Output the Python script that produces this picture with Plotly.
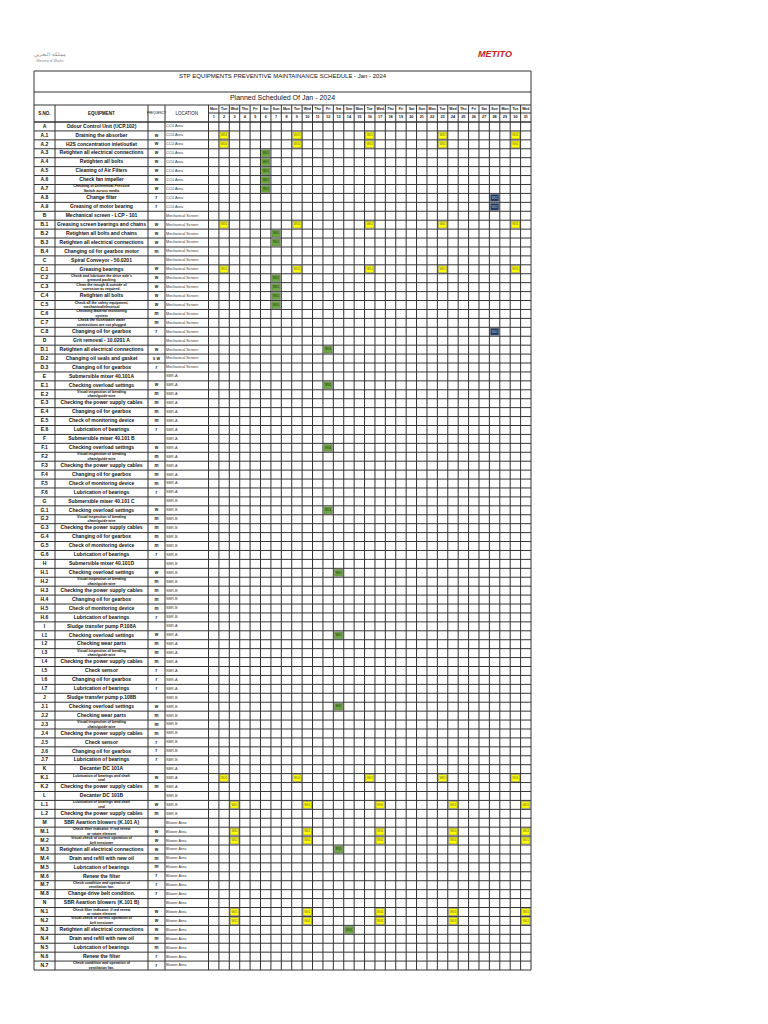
import plotly.graph_objects as go

sno = ["A","A.1","A.2","A.3","A.4","A.5","A.6","A.7","A.8","A.9",
       "B","B.1","B.2","B.3","B.4",
       "C","C.1","C.2","C.3","C.4","C.5","C.6","C.7","C.8",
       "D","D.1","D.2","D.3",
       "E","E.1","E.2","E.3","E.4","E.5","E.6",
       "F","F.1","F.2","F.3","F.4","F.5","F.6",
       "G","G.1","G.2","G.3","G.4","G.5","G.6",
       "H","H.1","H.2","H.3","H.4","H.5","H.6",
       "I","I.1","I.2","I.3","I.4","I.5","I.6","I.7",
       "J","J.1","J.2","J.3","J.4","J.5","J.6","J.7",
       "K","K.1","K.2","L","L.1","L.2",
       "M","M.1","M.2","M.3","M.4","M.5","M.6","M.7","M.8",
       "N","N.1","N.2","N.3","N.4","N.5","N.6","N.7"]

sub = ["Checking overload settings","Visual inspection of bending<br>chain/guide wire","Checking the power supply cables",
       "Changing oil for gearbox","Check of monitoring device","Lubrication of bearings"]
pump = ["Checking overload settings","Checking wear parts","Visual inspection of bending<br>chain/guide wire",
        "Checking the power supply cables","Check sensor","Changing oil for gearbox","Lubrication of bearings"]
blowA = ["Check filter indicator, if red renew<br>or rotate element","Visual check of correct operation of<br>belt tensioner",
         "Retighten all electrical connections","Drain and refill with new oil","Lubrication of bearings","Renew the filter",
         "Check condition and operation of<br>ventilation fan."]
equipment = (["Odour Control Unit (UCP.102)","Draining the absorber","H2S concentration inlet/outlet",
              "Retighten all electrical connections","Retighten all bolts","Cleaning of Air Filters","Check fan impeller",
              "Checking of Differential Pressure<br>Switch across media","Change filter","Greasing of motor bearing",
              "Mechanical screen - LCP - 101","Greasing screen bearings and chains","Retighten all bolts and chains",
              "Retighten all electrical connections","Changing oil for gearbox motor",
              "Spiral Conveyor - 50.0201","Greasing bearings","Check and lubricate the drive axle's<br>greased packing",
              "Clean the trough & outside of<br>corrosion as required.","Retighten all bolts",
              "Check all the safety equipment,<br>mechanical/electrical","Checking Material monitoring<br>system",
              "Check the flush/wash water<br>connections are not plugged","Changing oil for gearbox",
              "Grit removal - 10.0201 A","Retighten all electrical connections","Changing oil seals and gasket","Changing oil for gearbox",
              "Submersible mixer 40.101A"] + sub +
             ["Submersible mixer 40.101 B"] + sub +
             ["Submersible mixer 40.101 C"] + sub +
             ["Submersible mixer 40.101D"] + sub +
             ["Sludge transfer pump P.108A"] + pump +
             ["Sludge transfer pump p.108B"] + pump +
             ["Decanter DC 101A","Lubrication of bearings and shaft<br>seal","Checking the power supply cables",
              "Decanter DC 101B","Lubrication of bearings and shaft<br>seal","Checking the power supply cables",
              "SBR Aeartion blowers (K.101 A)"] + blowA + ["Change drive belt condition.",
              "SBR Aeartion blowers (K.101 B)"] + blowA)

freq = (["","w","w","w","w","w","w","w","r","r", "","w","w","w","m", "","w","w","w","w","w","m","m","r",
         "","w","s w","r"] + ["","w","m","m","m","m","r"]*4 + ["","w","m","m","m","r","r","r"]*2 +
        ["","w","m"]*2 + ["","w","w","w","m","m","r","r","r"] + ["","w","w","w","m","m","r","r"])

location = (["CCU Area"]*10 + ["Mechanical Screen"]*18 + ["SBR-A"]*14 + ["SBR-B"]*14 +
            ["SBR-A"]*8 + ["SBR-B"]*8 + ["SBR-A"]*3 + ["SBR-B"]*3 + ["Blower Area"]*17)

weekdays = ["Mon","Tue","Wed","Thu","Fri","Sat","Sun"]
days = list(range(1, 32))

yellow_rows = {"A.1":2,"A.2":2,"B.1":2,"C.1":2,"K.1":2,"L.1":3,"M.1":3,"M.2":3,"N.1":3,"N.2":3}
green_marks = [("A.3",6),("A.4",6),("A.5",6),("A.6",6),("A.7",6),
               ("B.2",7),("B.3",7),("C.2",7),("C.3",7),("C.4",7),("C.5",7),
               ("D.1",12),("E.1",12),("F.1",12),("G.1",12),("H.1",13),("I.1",13),("J.1",13),
               ("M.3",13),("N.3",14)]
blue_marks = [("A.8",28),("A.9",28),("C.8",28)]

# ---- geometry (page pixels) ----
X0, XS, XE, XF, XL, XD = 34, 55, 148, 165, 208.5, 531
DW = (XD - XL) / 31
Y_T, Y_P, Y_H, Y_H2, Y_D = 71, 92, 105, 113, 122
Y_END = 970
RH = (Y_END - Y_D) / len(sno)

fig = go.Figure()
lx, ly = [], []
def seg(x1, y1, x2, y2):
    lx.extend([x1, x2, None]); ly.extend([y1, y2, None])

for y in [Y_T, Y_P, Y_H, Y_D]:
    seg(X0, y, XD, y)
seg(XL, Y_H2, XD, Y_H2)
for i in range(len(sno) + 1):
    seg(X0, Y_D + i*RH, XD, Y_D + i*RH)
seg(X0, Y_T, X0, Y_END); seg(XD, Y_T, XD, Y_END)
for x in [XS, XE, XF, XL]:
    seg(x, Y_H, x, Y_END)
for d in range(1, 31):
    seg(XL + d*DW, Y_H, XL + d*DW, Y_END)

def row_y(s):
    return Y_D + (sno.index(s) + 0.5) * RH

shapes = []
def cell(s, d, color, tc):
    yc = row_y(s); xc = XL + (d - 0.5) * DW
    shapes.append(dict(type="rect", x0=xc-DW/2+1, x1=xc+DW/2-1, y0=yc-RH/2+1, y1=yc+RH/2-1,
                       fillcolor=color, line=dict(color="#666", width=0.5), layer="below"))
    return xc, yc, tc

cells = []
for s, d0 in yellow_rows.items():
    for d in range(d0, 32, 7):
        cells.append(cell(s, d, "#ffff00", "#555"))
for s, d in green_marks:
    cells.append(cell(s, d, "#6aaa3a", "#222"))
for s, d in blue_marks:
    cells.append(cell(s, d, "#1f3a6b", "#ccc"))

fig.add_trace(go.Scatter(x=lx, y=ly, mode="lines", line=dict(color="#333", width=1), hoverinfo="skip"))

ys = [Y_D + (i + 0.5) * RH for i in range(len(sno))]
F = "Liberation Sans"
def txt(x, y, t, size, color="#111", pos="middle center", family=F):
    fig.add_trace(go.Scatter(x=x, y=y, text=t, mode="text", textposition=pos,
                             textfont=dict(size=size, color=color, family=family), hoverinfo="skip"))

txt([(X0+XS)/2]*len(sno), ys, ["<b>%s</b>" % s for s in sno], 5)
txt([(XS+XE)/2]*len(sno), ys, ["<b>%s</b>" % e for e in equipment],
    [3.6 if "<br>" in e else 5 for e in equipment])
txt([(XE+XF)/2]*len(sno), ys, ["<b>%s</b>" % f for f in freq], 4.5)
txt([XF+1]*len(sno), ys, location, 3.8, "#333", "middle right")
txt([c[0] for c in cells], [c[1] for c in cells], ["W01"]*len(cells), 3, [c[2] for c in cells])

txt([(X0+XS)/2, (XS+XE)/2, (XE+XF)/2, (XF+XL)/2], [(Y_H+Y_D)/2]*4,
    ["<b>S.NO.</b>", "<b>EQUIPMENT</b>", "FREQUENCY", "LOCATION"], [4.5, 4.5, 3, 4.5])
txt([XL + (d-0.5)*DW for d in days], [(Y_H+Y_H2)/2]*31,
    ["<b>%s</b>" % weekdays[(d-1) % 7] for d in days], 3.5)
txt([XL + (d-0.5)*DW for d in days], [(Y_H2+Y_D)/2]*31, ["<b>%d</b>" % d for d in days], 3.8)
txt([(X0+XD)/2], [76.5], ["STP EQUIPMENTS PREVENTIVE MAINTAINANCE SCHEDULE - Jan - 2024"], 6)
txt([(X0+XD)/2], [98], ["Planned Scheduled Of Jan - 2024"], 7)

txt([495], [55], ["<b><i>METITO</i></b>"], 9, "#c0262c")
txt([50], [55], ["مملكة البحرين"], 5, "#777")
txt([50], [61], ["Ministry of Works"], 3.5, "#888")

# page has an 8px body margin: shift ranges so coordinates are page pixels
fig.update_layout(width=768, height=1024, margin=dict(l=0, r=0, t=0, b=0),
                  plot_bgcolor="white", paper_bgcolor="white", showlegend=False, shapes=shapes,
                  xaxis=dict(range=[8, 776], visible=False, fixedrange=True),
                  yaxis=dict(range=[1032, 8], visible=False, fixedrange=True))
fig.write_html("out.html")
